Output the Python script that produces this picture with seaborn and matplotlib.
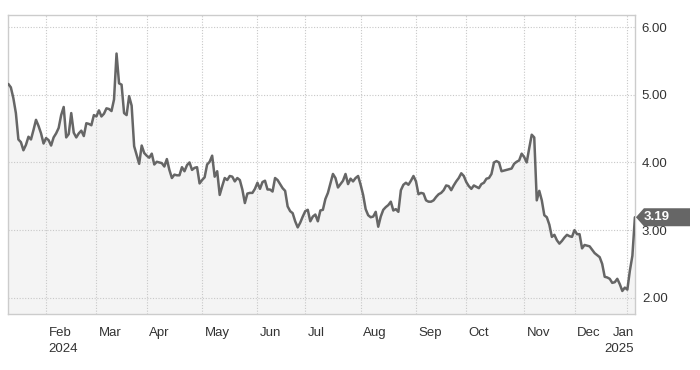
import numpy as np
import pandas as pd
import matplotlib
matplotlib.use("Agg")
import matplotlib.pyplot as plt
import matplotlib.transforms as mtransforms
from matplotlib.patches import Polygon
import seaborn as sns

# ---- data (daily closes, trading days 2024-01-10 .. 2025-01-07) ----
jan24 = [5.16, 5.11, 4.95, 4.73, 4.34, 4.30, 4.18, 4.26, 4.38, 4.34, 4.48, 4.63, 4.54, 4.43, 4.28]
feb24 = [4.36, 4.33, 4.25, 4.37, 4.43, 4.51, 4.70, 4.82, 4.37, 4.42, 4.73, 4.44, 4.37, 4.43, 4.47,
         4.39, 4.58, 4.57, 4.55, 4.70]
mar24 = [4.68, 4.77, 4.68, 4.72, 4.80, 4.79, 4.76, 4.93, 5.61, 5.17, 5.15, 4.73, 4.70, 4.98, 4.84,
         4.24, 4.11, 3.98, 4.25, 4.14]
apr24 = [4.10, 4.07, 4.13, 3.97, 4.01, 4.00, 3.99, 3.94, 4.05, 3.89, 3.77, 3.82, 3.81, 3.81, 3.93,
         3.87, 3.96, 4.00, 3.89, 3.92, 3.93, 3.69]
may24 = [3.74, 3.78, 3.97, 4.01, 4.10, 3.79, 3.87, 3.52, 3.65, 3.77, 3.74, 3.80, 3.79, 3.72, 3.77,
         3.74, 3.60, 3.40, 3.54, 3.55, 3.55, 3.61]
jun24 = [3.70, 3.61, 3.71, 3.73, 3.60, 3.60, 3.57, 3.77, 3.74, 3.68, 3.62, 3.58, 3.35, 3.28, 3.25,
         3.13, 3.04, 3.11, 3.20]
jul24 = [3.28, 3.30, 3.13, 3.20, 3.23, 3.13, 3.29, 3.30, 3.46, 3.55, 3.69, 3.83, 3.77, 3.63, 3.68,
         3.73, 3.83, 3.68, 3.76, 3.72, 3.77, 3.80]
aug24 = [3.67, 3.52, 3.31, 3.22, 3.19, 3.20, 3.27, 3.05, 3.20, 3.30, 3.34, 3.37, 3.42, 3.29, 3.31,
         3.27, 3.59, 3.67, 3.70, 3.67, 3.73, 3.80]
sep24 = [3.72, 3.53, 3.55, 3.54, 3.44, 3.42, 3.42, 3.44, 3.49, 3.53, 3.55, 3.59, 3.66, 3.65, 3.59,
         3.66, 3.72, 3.77, 3.84, 3.80]
oct24 = [3.71, 3.65, 3.61, 3.66, 3.64, 3.62, 3.68, 3.70, 3.76, 3.77, 3.83, 4.00, 4.02, 4.00, 3.87,
         3.88, 3.89, 3.90, 3.91, 3.98, 4.01, 4.03, 4.13]
nov24 = [4.08, 4.00, 4.21, 4.41, 4.37, 3.44, 3.58, 3.44, 3.22, 3.19, 3.08, 2.90, 2.93, 2.85, 2.80,
         2.84, 2.89, 2.93, 2.91, 2.90]
dec24 = [3.00, 2.94, 2.94, 2.73, 2.78, 2.77, 2.76, 2.71, 2.66, 2.63, 2.60, 2.50, 2.31, 2.30, 2.28,
         2.22, 2.23, 2.28, 2.20, 2.10, 2.15]
jan25 = [2.12, 2.40, 2.62, 3.19]

values = jan24 + feb24 + mar24 + apr24 + may24 + jun24 + jul24 + aug24 + sep24 + oct24 + nov24 + dec24 + jan25

holidays = ["2024-01-15", "2024-02-19", "2024-03-29", "2024-05-27", "2024-06-19", "2024-07-04",
            "2024-09-02", "2024-11-28", "2024-12-25", "2025-01-01"]
month_labels = ["Feb\n2024", "Mar", "Apr", "May", "Jun", "Jul", "Aug", "Sep", "Oct", "Nov", "Dec", "Jan\n2025"]
y_ticks = [2.0, 3.0, 4.0, 5.0, 6.0]
last_label = "3.19"

# ---- build frame ----
bday = pd.offsets.CustomBusinessDay(holidays=pd.to_datetime(holidays))
dates = pd.date_range("2024-01-10", periods=len(values), freq=bday)
df = pd.DataFrame({"date": dates, "idx": np.arange(len(values)), "value": values})

# first trading day of each month (Feb 2024 .. Jan 2025)
firsts = df.groupby(df["date"].dt.to_period("M"))["idx"].min().values[1:]

sns.set_theme(style="white")
plt.rcParams["font.family"] = ["Liberation Sans", "DejaVu Sans"]

fig = plt.figure(figsize=(7.0, 3.7), dpi=100)
ax = fig.add_axes([0.0119, 0.1514, 0.8951, 0.8081])

ymin, ymax = 1.76, 6.18
ax.fill_between(df["idx"], ymin, df["value"], color="#f4f4f4", linewidth=0, zorder=1)
sns.lineplot(data=df, x="idx", y="value", ax=ax, color="#666666", linewidth=1.8, zorder=3)

ax.set_xlim(0, len(values) - 1)
ax.set_ylim(ymin, ymax)

# grid
for xv in firsts:
    ax.axvline(xv, color="#c8c8c8", linestyle=(0, (1, 1.5)), linewidth=0.8, zorder=2)
for yv in y_ticks:
    ax.axhline(yv, color="#c8c8c8", linestyle=(0, (1, 1.5)), linewidth=0.8, zorder=2)

for s in ax.spines.values():
    s.set_color("#cccccc")
    s.set_linewidth(1.0)

ax.set_xlabel("")
ax.set_ylabel("")
ax.set_xticks([])
ax.yaxis.tick_right()
ax.set_yticks(y_ticks)
ax.set_yticklabels([f"{v:.2f}" for v in y_ticks], fontsize=9.5, color="#333333")
ax.tick_params(axis="y", length=0, pad=5)

# month labels
trans = mtransforms.blended_transform_factory(ax.transData, ax.transAxes)
for i, (xv, lab) in enumerate(zip(firsts, month_labels)):
    if i == len(month_labels) - 1:
        ax.text(len(values) - 1.5, -0.045, lab, transform=trans, ha="right", va="top",
                fontsize=9.5, color="#333333", linespacing=1.45)
    else:
        ax.text(xv + 1.0, -0.045, lab, transform=trans, ha="left", va="top",
                fontsize=9.5, color="#333333", linespacing=1.45)

# last value badge (arrow-shaped tag pointing at the axis edge)
bbox_ax = ax.get_window_extent()
tip_x = bbox_ax.x1 + 1
tip_y = ax.transData.transform((0, values[-1]))[1]
half_h = 9
poly = Polygon([(tip_x, tip_y), (tip_x + 8, tip_y + half_h), (690, tip_y + half_h),
                (690, tip_y - half_h), (tip_x + 8, tip_y - half_h)],
               closed=True, transform=None, facecolor="#666666", edgecolor="none", zorder=10)
fig.patches.append(poly)
fig.text((tip_x + 8) / 700, tip_y / 370, last_label, ha="left", va="center",
         fontsize=9.5, color="white", fontweight="bold", zorder=11)

fig.savefig("out.png", dpi=100, facecolor="white")
